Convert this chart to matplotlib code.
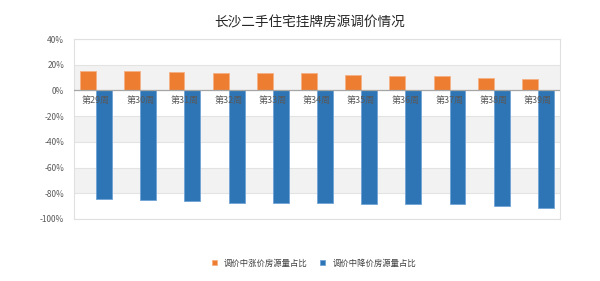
import matplotlib
matplotlib.use("Agg")
import matplotlib.pyplot as plt
import numpy as np
from matplotlib.ticker import FuncFormatter

plt.rcParams['font.family'] = ['Noto Sans CJK SC', 'DejaVu Sans']

weeks = ["第29周", "第30周", "第31周", "第32周", "第33周", "第34周",
         "第35周", "第36周", "第37周", "第38周", "第39周"]
rise = [15.3, 15.3, 14.1, 13.3, 13.3, 13.3, 12.2, 11.5, 11.5, 9.9, 8.9]
fall = [-84.7, -85.5, -86.3, -87.6, -87.6, -87.3, -88.6, -88.6, -88.6, -90.1, -91.2]
series_names = ["调价中涨价房源量占比", "调价中降价房源量占比"]
title = "长沙二手住宅挂牌房源调价情况"

fig = plt.figure(figsize=(6, 2.81), dpi=100)
ax = fig.add_axes([74/600, 1-219/281, (560-74)/600, (219-39)/281])

x = np.arange(len(weeks))
w = 0.36
b1 = ax.bar(x - w/2, rise, width=w, color="#ED7D31", edgecolor="#F4B183", linewidth=0.6, label=series_names[0], zorder=3)
b2 = ax.bar(x + w/2, fall, width=w, color="#2E75B6", edgecolor="#6FA3D6", linewidth=0.6, label=series_names[1], zorder=3)

ax.set_ylim(-100, 40)
ax.set_xlim(-0.5, len(weeks) - 0.5)
ax.set_yticks(np.arange(-100, 41, 20))
ax.yaxis.set_major_formatter(FuncFormatter(lambda v, p: f"{int(v)}%"))
ax.tick_params(axis='y', length=0, labelsize=6, labelcolor="#595959", pad=7)

# alternating bands
for lo, hi in [(0, 20), (-40, -20), (-80, -60)]:
    ax.axhspan(lo, hi, color="#F2F2F2", zorder=0, linewidth=0)
for yv in np.arange(-100, 41, 20):
    ax.axhline(yv, color="#E3E3E3", linewidth=0.8, zorder=1)
ax.axhline(0, color="#A6A6A6", linewidth=0.9, zorder=4)

ax.set_xticks([])
for i, lab in enumerate(weeks):
    ax.text(i, -4.5, lab, ha="center", va="top", fontsize=6.5, color="#595959", zorder=5)

for s in ax.spines.values():
    s.set_color("#E0E0E0")
    s.set_linewidth(0.8)

fig.text(310/600, 1-22/281, title, ha="center", va="center", fontsize=9.8, color="#262626")

leg = fig.legend(handles=[b1, b2], labels=series_names, loc="center", bbox_to_anchor=(314/600, 1-263/281),
                 ncol=2, frameon=False, fontsize=6.0, handlelength=0.6, handleheight=0.6,
                 handletextpad=0.9, columnspacing=1.5)
for t in leg.get_texts():
    t.set_color("#404040")

fig.savefig("out.png", dpi=100)
